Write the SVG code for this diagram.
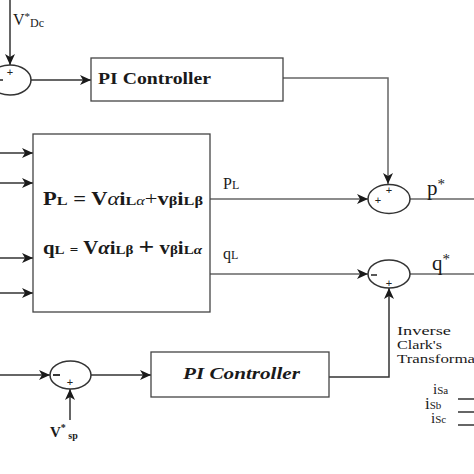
<svg xmlns="http://www.w3.org/2000/svg" width="474" height="474" viewBox="0 0 474 474">
<defs>
<marker id="ah" markerUnits="userSpaceOnUse" markerWidth="12" markerHeight="10" refX="11" refY="5" orient="auto">
<path d="M0,0 L11,5 L0,10 L3,5 Z" fill="#1a1a1a"/>
</marker>
</defs>
<style>
.ln{fill:none;stroke:#333;stroke-width:1.5}
.lg{fill:none;stroke:#666;stroke-width:1.5}
.box{fill:#fff;stroke:#444;stroke-width:1.3}
.sum{fill:#fff;stroke:#333;stroke-width:1.5}
.t{font-family:"Liberation Serif","Times New Roman",serif;fill:#1a1a1a}
.b{font-weight:bold}
.sg{font-family:"Liberation Sans",sans-serif;fill:#222;font-size:11px;text-anchor:middle}
</style>
<rect width="474" height="474" fill="#fff"/>

<g id="connectors">
<line class="ln" x1="10" y1="0" x2="10" y2="65" marker-end="url(#ah)"/>
<line class="ln" x1="31" y1="80" x2="91" y2="80" marker-end="url(#ah)"/>
<polyline class="lg" points="283,78 388,78 388,184" marker-end="url(#ah)"/>
<line class="ln" x1="0" y1="153" x2="33" y2="153" marker-end="url(#ah)"/>
<line class="ln" x1="0" y1="183" x2="33" y2="183" marker-end="url(#ah)"/>
<line class="ln" x1="0" y1="258" x2="33" y2="258" marker-end="url(#ah)"/>
<line class="ln" x1="0" y1="293" x2="33" y2="293" marker-end="url(#ah)"/>
<line class="lg" x1="210" y1="199" x2="368" y2="199" marker-end="url(#ah)"/>
<line class="lg" x1="410" y1="199" x2="474" y2="199"/>
<line class="lg" x1="210" y1="274" x2="368" y2="274" marker-end="url(#ah)"/>
<line class="lg" x1="410" y1="274" x2="474" y2="274"/>
<polyline class="ln" points="329,377 389,377 389,288" marker-end="url(#ah)"/>
<line class="ln" x1="0" y1="375" x2="50" y2="375" marker-end="url(#ah)"/>
<line class="ln" x1="91" y1="375" x2="151" y2="375" marker-end="url(#ah)"/>
<line class="ln" x1="70" y1="420" x2="70" y2="389" marker-end="url(#ah)"/>
<line class="ln" x1="458" y1="399" x2="474" y2="399"/>
<line class="ln" x1="458" y1="412" x2="474" y2="412"/>
<line class="ln" x1="458" y1="425" x2="474" y2="425"/>
</g>

<g id="sum-dc">
<ellipse class="sum" cx="10" cy="80" rx="21" ry="15"/>
<text class="sg" x="10" y="76">+</text>
<line x1="0" y1="80" x2="3" y2="80" stroke="#222" stroke-width="1.5"/>
<text class="t" x="13" y="25" font-size="16">V<tspan font-size="11" dy="-5">*</tspan><tspan font-size="12" dy="7">Dc</tspan></text>
</g>

<g id="pi-top">
<rect class="box" x="91" y="58" width="192" height="43"/>
<text class="t b" x="98" y="84" font-size="17" textLength="113" lengthAdjust="spacingAndGlyphs">PI Controller</text>
</g>

<g id="calc">
<rect class="box" x="33" y="134" width="177" height="178"/>
<text class="t b" x="43" y="205" font-size="18" textLength="160" lengthAdjust="spacingAndGlyphs">P<tspan font-size="13">L</tspan> = V<tspan font-style="italic" font-weight="normal">α</tspan>i<tspan font-size="13">L<tspan font-style="italic" font-weight="normal">α</tspan></tspan><tspan font-weight="normal">+</tspan>v<tspan font-size="13">β</tspan>i<tspan font-size="13">Lβ</tspan></text>
<text class="t b" x="43" y="254" font-size="18" textLength="159" lengthAdjust="spacingAndGlyphs">q<tspan font-size="13">L</tspan> <tspan font-size="13">=</tspan> V<tspan font-style="italic">α</tspan>i<tspan font-size="13">Lβ</tspan> <tspan font-size="24">+</tspan> v<tspan font-size="13">β</tspan>i<tspan font-size="13">L<tspan font-style="italic">α</tspan></tspan></text>
<text class="t" x="223" y="189" font-size="16">P<tspan font-size="12">L</tspan></text>
<text class="t" x="223" y="259" font-size="16">q<tspan font-size="12">L</tspan></text>
</g>

<g id="sum-p">
<ellipse class="sum" cx="389" cy="199" rx="21" ry="14.5"/>
<text class="sg" x="378" y="204">+</text>
<text class="sg" x="389" y="194">+</text>
<text class="t" x="427" y="195" font-size="21">p<tspan font-size="15" dy="-6">*</tspan></text>
</g>

<g id="sum-q">
<ellipse class="sum" cx="389" cy="274" rx="21" ry="14"/>
<line x1="371" y1="275" x2="377" y2="275" stroke="#222" stroke-width="1.5"/>
<text class="sg" x="389" y="287">+</text>
<text class="t" x="432" y="270" font-size="21">q<tspan font-size="15" dy="-6">*</tspan></text>
</g>

<g id="sum-sp">
<ellipse class="sum" cx="70.5" cy="375" rx="20.5" ry="14"/>
<line x1="53" y1="375" x2="60" y2="375" stroke="#222" stroke-width="1.8"/>
<text class="sg" x="70" y="386">+</text>
<text class="t b" x="50" y="437" font-size="15">V<tspan font-size="10" dy="-6">*</tspan><tspan font-size="10" dy="8"> sp</tspan></text>
</g>

<g id="pi-bottom">
<rect class="box" x="151" y="352" width="178" height="45"/>
<text class="t b" x="183" y="379" font-size="17" font-style="italic" textLength="117" lengthAdjust="spacingAndGlyphs">PI Controller</text>
</g>

<g id="inverse-clark">
<text class="t" x="397" y="335" font-size="13" textLength="54" lengthAdjust="spacingAndGlyphs">Inverse</text>
<text class="t" x="397" y="349" font-size="13" textLength="45" lengthAdjust="spacingAndGlyphs">Clark's</text>
<text class="t" x="397" y="363" font-size="13" textLength="78" lengthAdjust="spacingAndGlyphs">Transforma</text>
<text class="t" x="433" y="394" font-size="15">i<tspan font-size="11">Sa</tspan></text>
<text class="t" x="425" y="409" font-size="17">i<tspan font-size="11">Sb</tspan></text>
<text class="t" x="431" y="423" font-size="15">i<tspan font-size="11">Sc</tspan></text>
</g>
</svg>
